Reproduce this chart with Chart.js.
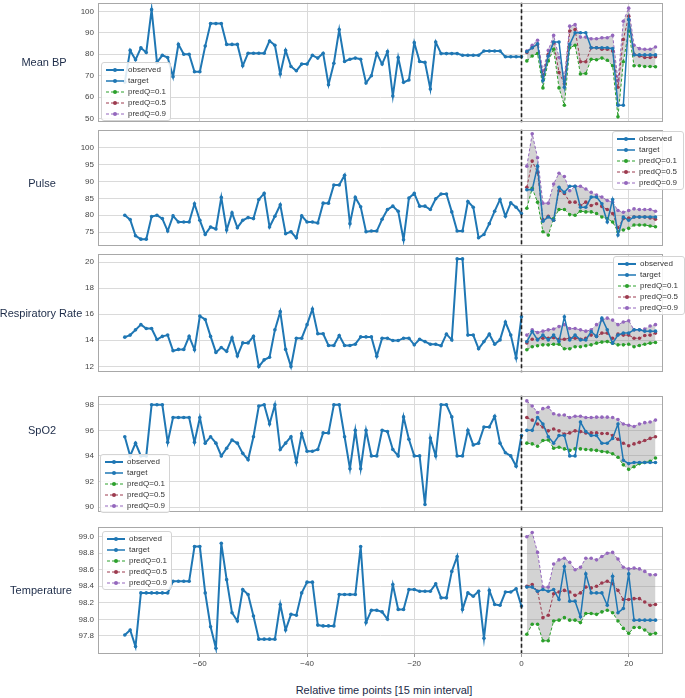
<!DOCTYPE html>
<html><head><meta charset="utf-8">
<script src="https://cdn.jsdelivr.net/npm/chart.js@4.4.0/dist/chart.umd.min.js"></script>
<style>
html,body{margin:0;padding:0;background:#fff;}
body{width:685px;height:698px;overflow:hidden;position:relative;font-family:"Liberation Sans",Arial,sans-serif;}
canvas{position:absolute;left:0;}
.ttl{position:absolute;font-size:11px;color:#1c2b48;transform:translate(-50%,-50%);white-space:nowrap;}
.leg{position:absolute;background:rgba(255,255,255,0.85);border:1px solid #d4d4d4;border-radius:3px;font-size:8px;color:#333;padding:1px 4px 1px 4px;box-sizing:border-box;}
.leg div{display:flex;align-items:center;height:11px;white-space:nowrap;}
.leg svg{margin-right:4px;flex:none;}
</style></head>
<body>
<script>
// ---- time axes ----
const obsTime = [-74,-73,-72,-71,-70,-69,-68,-67,-66,-65,-64,-63,-62,-61,-60,-59,-58,-57,-56,-55,-54,-53,-52,-51,-50,-49,-48,-47,-46,-45,-44,-43,-42,-41,-40,-39,-38,-37,-36,-35,-34,-33,-32,-31,-30,-29,-28,-27,-26,-25,-24,-23,-22,-21,-20,-19,-18,-17,-16,-15,-14,-13,-12,-11,-10,-9,-8,-7,-6,-5,-4,-3,-2,-1,0];
const predTime = [1,2,3,4,5,6,7,8,9,10,11,12,13,14,15,16,17,18,19,20,21,22,23,24,25];
const splitTime = 0;
const xTicks = [-60,-40,-20,0,20];
const xRange = [-79, 26.4];
const seriesNames = ['observed','target','predQ=0.1','predQ=0.5','predQ=0.9'];
const panelNames = ['Mean BP','Pulse','Respiratory Rate','SpO2','Temperature'];
const xLabel = 'Relative time points [15 min interval]';

// ---- Mean BP ----
const meanBPObs = [67,81.8,77.4,83,80.8,100.8,76.2,79.5,78.5,69.5,84.6,80,80,71.8,71.8,83.8,94.3,94.3,94.3,84.6,84.6,84.6,74.6,80.5,80.5,80.5,80.5,86.2,84.2,70.8,81.8,74.3,72.3,75.4,75.4,79.5,78.2,80.5,65.8,75.8,91.5,76.6,77.7,78.2,77.7,66.6,70,80.5,75.4,81.2,60.5,78.5,66.9,68,85.4,76.6,76.2,63.8,85.7,80.3,80.3,80.3,80.3,79.5,79.5,79.5,79.5,81.5,81.5,81.5,81.5,78.8,78.8,78.8,78.8];
const meanBPTarget = [81.2,83,84.9,67.7,79.2,85.7,85.7,64.6,84.6,90,90,90,83,83,83,83,82.6,56.2,56.2,96.2,79.7,79.7,79.7,79.7,79.7];
const meanBPQ1 = [76.9,79.2,80.3,64.3,76.9,82.3,64.3,56.2,83,84.2,70.8,71,77.7,77.4,78.2,77.2,74.6,50.8,76.5,90.8,74.6,74.6,74.3,74.3,74.2];
const meanBPQ5 = [80.8,83,84.6,70,80,85.4,71.5,66.2,90.8,91.5,76.5,76.5,83,83,82.3,82.3,81.5,64.6,86.9,97.7,80,79.2,78.5,78.5,78.8];
const meanBPQ9 = [81.5,84.2,86.5,72.3,81.8,88.8,78.5,69.2,93.1,93.8,88,88,87.2,87.2,87.7,87.7,88.8,67.7,95.4,101.5,84.2,82.6,82.3,82.3,83.4];
const meanBPTicks = [50,60,70,80,90,100];
const meanBPRange = [48.3,104.0];

// ---- Pulse ----
const pulseObs = [80,78.7,73.9,72.9,72.9,79.6,80,79,75.3,79.8,78,78,78,83.4,78.5,74.3,76.5,75.9,85.3,75.6,80.7,76.3,78.5,79.3,79,84.7,86.5,76.5,79.7,83.1,74.5,75.1,73.3,79.8,78,78,77.7,83.6,83.6,89,89,91.9,77.5,85.3,82.5,75.1,75.3,75.3,78.8,81.7,82.7,81.2,72.7,85.1,86.5,82.7,82.7,81.7,84.9,86.3,86.3,81,75.3,75.3,84.1,82.4,73.3,74.3,77.5,81.2,84.7,79.7,83.7,82.4,80.5];
const pulseTarget = [87.6,87.6,94.6,78.2,79.5,78.5,88.3,86.8,88.6,88.6,82.4,82.4,85.4,85.4,83.4,78,84.7,74.1,79.5,78.5,79.5,79.5,79.5,79.5,79.5];
const pulseQ1 = [82.1,88,83.9,75.1,74.1,79,81.7,81.7,80.2,80,81.2,81,81,80.5,79.5,79,78,75.1,75.6,76.1,77.1,77.1,77.1,76.8,76.6];
const pulseQ5 = [88.3,96.1,92.7,78.7,79.7,78.5,87.3,86.5,83.9,83.9,82.9,83.9,82.9,83.4,82.6,81.7,80.5,76.3,79,79.2,79.5,79.5,79.5,79.2,78.8];
const pulseQ9 = [94.6,104.2,97.1,83.6,83.6,89.3,92.5,91.5,87.3,88.6,88.6,87.8,86.8,86,85.4,84.4,83.9,81.4,80.9,81.4,81.9,81.7,81.7,81.7,81.2];
const pulseTicks = [75,80,85,90,95,100];
const pulseRange = [70.8,105.4];

// ---- Respiratory Rate ----
const respObs = [14.24,14.4,14.8,15.2,14.9,14.9,14.06,14.3,14.4,13.2,13.3,13.3,14.3,13.27,15.86,15.6,14.3,13.07,13.45,13.15,14.2,12.8,13.8,13.8,14.3,11.98,12.5,12.7,14.8,16.2,13.3,11.98,14.16,14.16,15.2,16.4,14.5,14.5,13.6,13.6,14.37,13.6,13.6,13.7,14.26,14.26,14.26,12.77,14.16,14.16,13.98,13.98,14.16,14.16,13.65,14.08,13.9,13.7,13.7,13.58,14.47,14.03,20.25,20.25,14.4,14.4,13.35,13.9,14.47,13.7,14.03,15.4,14.4,12.64,15.8];
const respTarget = [13.9,14.67,14.03,14.4,14.03,14.4,13.9,15.8,14.03,14.4,14.03,14.03,14.67,14.3,15.7,14.8,13.78,14.4,14.55,14.55,14.8,14.8,14.7,14.7,14.7];
const respQ1 = [13.27,13.5,13.58,13.65,13.65,13.7,13.7,13.35,13.35,13.5,13.5,13.58,13.65,13.78,13.86,13.9,13.78,13.65,13.65,13.7,13.5,13.6,13.7,13.78,13.83];
const respQ5 = [13.8,14.08,14.08,14.16,14.16,14.2,14.08,14.08,14.16,14.16,14.08,14.16,14.4,14.3,14.55,14.55,14.16,14.47,14.4,14.4,14.16,14.16,14.37,14.4,14.55];
const respQ9 = [14.4,14.8,14.6,14.7,14.8,14.87,15.05,15.2,14.9,14.9,14.8,14.7,14.8,15.2,15.55,15.7,15.55,15.2,15.4,15.5,14.8,14.8,14.87,15.1,15.2];
const respTicks = [12,14,16,18,20];
const respRange = [11.55,20.64];

// ---- SpO2 ----
const spo2Obs = [95.5,94.0,95.0,94.0,94.0,98,98,98,95.06,97,97,97,97,95.06,97,95,95.5,95,94,94.6,95.24,95,94.2,93.7,95.5,97.9,98,96.5,98,94.5,95,95.5,93.5,95.75,94.37,94.37,94.5,95.8,95.8,98,98,95.5,93,96,93,96,94,94,96,95.9,94.5,94,97.05,95.3,94,94,90.2,95.4,94,98,98,97.05,94,94,96,94.86,95,96.26,96.26,97.1,95,94.25,94,93.2,95.6];
const spo2Target = [96,96,97,96.5,95.5,94.99,95.6,95.6,94,94,96.65,95.9,95.6,95.6,94.99,94.99,95.37,96.5,93.66,93.4,93.48,93.48,93.48,93.48,93.48];
const spo2Q1 = [95,94.94,94.76,95.2,95.24,94.6,94.68,94.55,94.43,94.55,94.55,94.5,94.47,94.43,94.35,94.3,94.17,93.9,93.3,92.95,93.15,93.4,93.48,93.58,93.84];
const spo2Q5 = [97,96.8,96.5,96.26,95.96,96.1,95.96,95.7,95.8,95.96,95.9,95.8,95.8,95.8,95.75,95.75,95.6,95.3,94.99,94.8,94.94,95.06,95.2,95.37,95.5];
const spo2Q9 = [98.3,97.9,97.4,97.7,97.8,97.3,97.2,97.2,97,97.1,97.1,97,97,97.03,97.03,97.03,97,96.85,96.5,96.4,96.3,96.5,96.6,96.65,96.8];
const spo2Ticks = [90,92,94,96,98];
const spo2Range = [89.6,98.7];

// ---- Temperature ----
const tempObs = [97.81,97.87,97.67,98.32,98.32,98.32,98.32,98.32,98.32,98.46,98.46,98.46,98.46,98.88,98.88,98.32,97.91,97.65,98.92,98.48,98.08,97.98,98.36,98.3,98.04,97.76,97.76,97.76,97.76,98.18,97.87,98.06,98.05,98.32,98.45,98.45,97.93,97.92,97.92,97.92,98.3,98.3,98.3,98.3,98.88,97.96,98.11,98.11,98.09,98.0,98.42,98.12,98.12,98.36,98.36,98.34,98.34,98.34,98.43,98.26,98.26,98.58,98.76,98.12,98.32,98.28,98.34,97.77,98.35,98.18,98.17,98.33,98.33,98.37,98.16];
const tempTarget = [98.39,98.39,98.34,98.36,98.34,98.36,98.24,98.64,98.22,98.22,98.03,98.55,98.32,98.32,98.32,98.17,98.52,98.08,98.13,98.55,97.99,97.99,97.99,97.99,97.99];
const tempQ1 = [97.82,97.94,97.94,97.74,97.74,97.98,97.99,98.02,97.99,97.99,97.96,98.07,98.07,98.06,98.09,98.11,98.08,97.98,97.89,97.83,97.9,97.9,97.87,97.82,97.83];
const tempQ5 = [98.4,98.42,98.34,98.02,98.05,98.31,98.33,98.35,98.33,98.29,98.32,98.39,98.38,98.4,98.44,98.46,98.43,98.35,98.24,98.24,98.25,98.25,98.21,98.17,98.18];
const tempQ9 = [99.0,99.05,98.81,98.39,98.39,98.67,98.72,98.74,98.69,98.6,98.63,98.74,98.74,98.72,98.76,98.8,98.81,98.73,98.63,98.61,98.62,98.61,98.58,98.54,98.54];
const tempTicks = [97.8,98.0,98.2,98.4,98.6,98.8,99.0];
const tempRange = [97.58,99.12];

// ---- layout / style (separate from data) ----
const panelBox = [[1.5,122],[129,247],[253,373],[395,513],[526,654]];
const panelDecimals = [0,0,0,0,1];
const titlePos = [[44,62],[42,183],[41,313],[42,430],[41,590]];
const legendPos = [[101,62,0],[612,131,72],[613,256,72],[100,454,0],[102,531,0]];
const colors = ['#1f77b4','#1f77b4','#2ca02c','#9c3a4f','#9467bd'];

const panelData = [
  [meanBPObs,meanBPTarget,meanBPQ1,meanBPQ5,meanBPQ9,meanBPTicks,meanBPRange],
  [pulseObs,pulseTarget,pulseQ1,pulseQ5,pulseQ9,pulseTicks,pulseRange],
  [respObs,respTarget,respQ1,respQ5,respQ9,respTicks,respRange],
  [spo2Obs,spo2Target,spo2Q1,spo2Q5,spo2Q9,spo2Ticks,spo2Range],
  [tempObs,tempTarget,tempQ1,tempQ5,tempQ9,tempTicks,tempRange]
];

Chart.defaults.font.family = '"Liberation Sans", Arial, sans-serif';
Chart.defaults.font.size = 8;
Chart.defaults.color = '#444';

const pts = (xs, ys) => xs.map((x, i) => ({x, y: ys[i]}));

const framePlugin = {
  id: 'frame',
  afterDraw(c) {
    const a = c.chartArea, g = c.ctx;
    g.save(); g.strokeStyle = '#a8a8a8'; g.lineWidth = 1;
    g.strokeRect(Math.round(a.left)+0.5, Math.round(a.top)+0.5, Math.round(a.right-a.left)-1, Math.round(a.bottom-a.top)-1);
    g.restore();
  }
};
const splitPlugin = {
  id: 'split',
  afterDatasetsDraw(c) {
    const a = c.chartArea, g = c.ctx;
    const px = Math.round(c.scales.x.getPixelForValue(splitTime)) + 0.5;
    g.save(); g.strokeStyle = '#222'; g.lineWidth = 1.6; g.setLineDash([4,2.5]);
    g.beginPath(); g.moveTo(px, a.top); g.lineTo(px, a.bottom); g.stroke();
    g.restore();
  }
};

function predSet(label, ys, color, extra) {
  return Object.assign({
    label, data: pts(predTime, ys), borderColor: color, backgroundColor: color,
    borderWidth: 1, borderDash: [3,2], pointRadius: 1.8, pointBorderWidth: 0,
    pointBackgroundColor: color, tension: 0, fill: false
  }, extra || {});
}

panelData.forEach((d, k) => {
  const [obs, tgt, q1, q5, q9, ticks, range] = d;
  const last = k === panelData.length - 1;
  const box = panelBox[k];
  const top = box[0] - 8;
  const xAxisH = last ? 20 : 0;
  const h = Math.round((box[1] - box[0]) + 8 + (last ? xAxisH : 8));
  const cv = document.createElement('canvas');
  cv.width = 685; cv.height = h;
  cv.style.top = top + 'px'; cv.style.width = '685px'; cv.style.height = h + 'px';
  document.body.appendChild(cv);

  new Chart(cv, {
    type: 'line',
    data: {
      datasets: [
        {label: seriesNames[0], data: pts(obsTime, obs), borderColor: colors[0], backgroundColor: colors[0],
         borderWidth: 2, pointRadius: 1.8, pointBorderWidth: 0, pointBackgroundColor: colors[0], tension: 0, fill: false},
        {label: seriesNames[1], data: pts(predTime, tgt), borderColor: colors[1], backgroundColor: colors[1],
         borderWidth: 1.5, pointRadius: 1.8, pointBorderWidth: 0, pointBackgroundColor: colors[1], tension: 0, fill: false},
        predSet(seriesNames[2], q1, colors[2]),
        predSet(seriesNames[3], q5, colors[3]),
        predSet(seriesNames[4], q9, colors[4], {fill: {target: 2}, backgroundColor: 'rgba(140,140,140,0.38)', pointBackgroundColor: colors[4]})
      ]
    },
    options: {
      responsive: false, animation: false, devicePixelRatio: 1,
      layout: {padding: {top: 8, bottom: last ? 0 : 8, left: 0, right: 22}},
      plugins: {legend: {display: false}, tooltip: {enabled: false}, filler: {drawTime: 'beforeDatasetsDraw'}},
      scales: {
        x: {
          type: 'linear', min: xRange[0], max: xRange[1],
          afterBuildTicks: s => { s.ticks = xTicks.map(v => ({value: v})); },
          afterFit: s => { s.height = xAxisH; },
          grid: {color: '#dadada', lineWidth: 1, drawTicks: last, tickLength: 3, tickColor: '#999'},
          border: {display: false},
          ticks: {display: last, padding: 2, color: '#444', maxRotation: 0, autoSkip: false,
                  callback: v => String(v).replace('-', '\u2212')}
        },
        y: {
          type: 'linear', min: range[0], max: range[1],
          afterBuildTicks: s => { s.ticks = ticks.map(v => ({value: v})); },
          afterFit: s => { s.width = 98; },
          grid: {color: '#dadada', lineWidth: 1, drawTicks: false},
          border: {display: false},
          ticks: {padding: 4, color: '#444', autoSkip: false,
                  callback: v => Number(v).toFixed(panelDecimals[k])}
        }
      }
    },
    plugins: [framePlugin, splitPlugin]
  });

  // title
  const t = document.createElement('div');
  t.className = 'ttl'; t.textContent = panelNames[k];
  t.style.left = titlePos[k][0] + 'px'; t.style.top = titlePos[k][1] + 'px';
  document.body.appendChild(t);

  // legend
  const lg = document.createElement('div');
  lg.className = 'leg';
  lg.style.left = legendPos[k][0] + 'px'; lg.style.top = legendPos[k][1] + 'px';
  if (legendPos[k][2]) lg.style.width = legendPos[k][2] + 'px';
  seriesNames.forEach((nm, j) => {
    const row = document.createElement('div');
    const w = j === 0 ? 2 : (j === 1 ? 1.5 : 1);
    const dash = j >= 2 ? ' stroke-dasharray="3,2"' : '';
    row.innerHTML = '<svg width="18" height="8"><line x1="0" y1="4" x2="18" y2="4" stroke="' + colors[j] + '" stroke-width="' + w + '"' + dash + '/><circle cx="9" cy="4" r="2" fill="' + colors[j] + '"/></svg><span>' + nm + '</span>';
    lg.appendChild(row);
  });
  document.body.appendChild(lg);
});

const xl = document.createElement('div');
xl.className = 'ttl'; xl.style.fontSize = '11px';
xl.textContent = xLabel; xl.style.left = '384px'; xl.style.top = '690px';
document.body.appendChild(xl);
</script>
</body></html>
